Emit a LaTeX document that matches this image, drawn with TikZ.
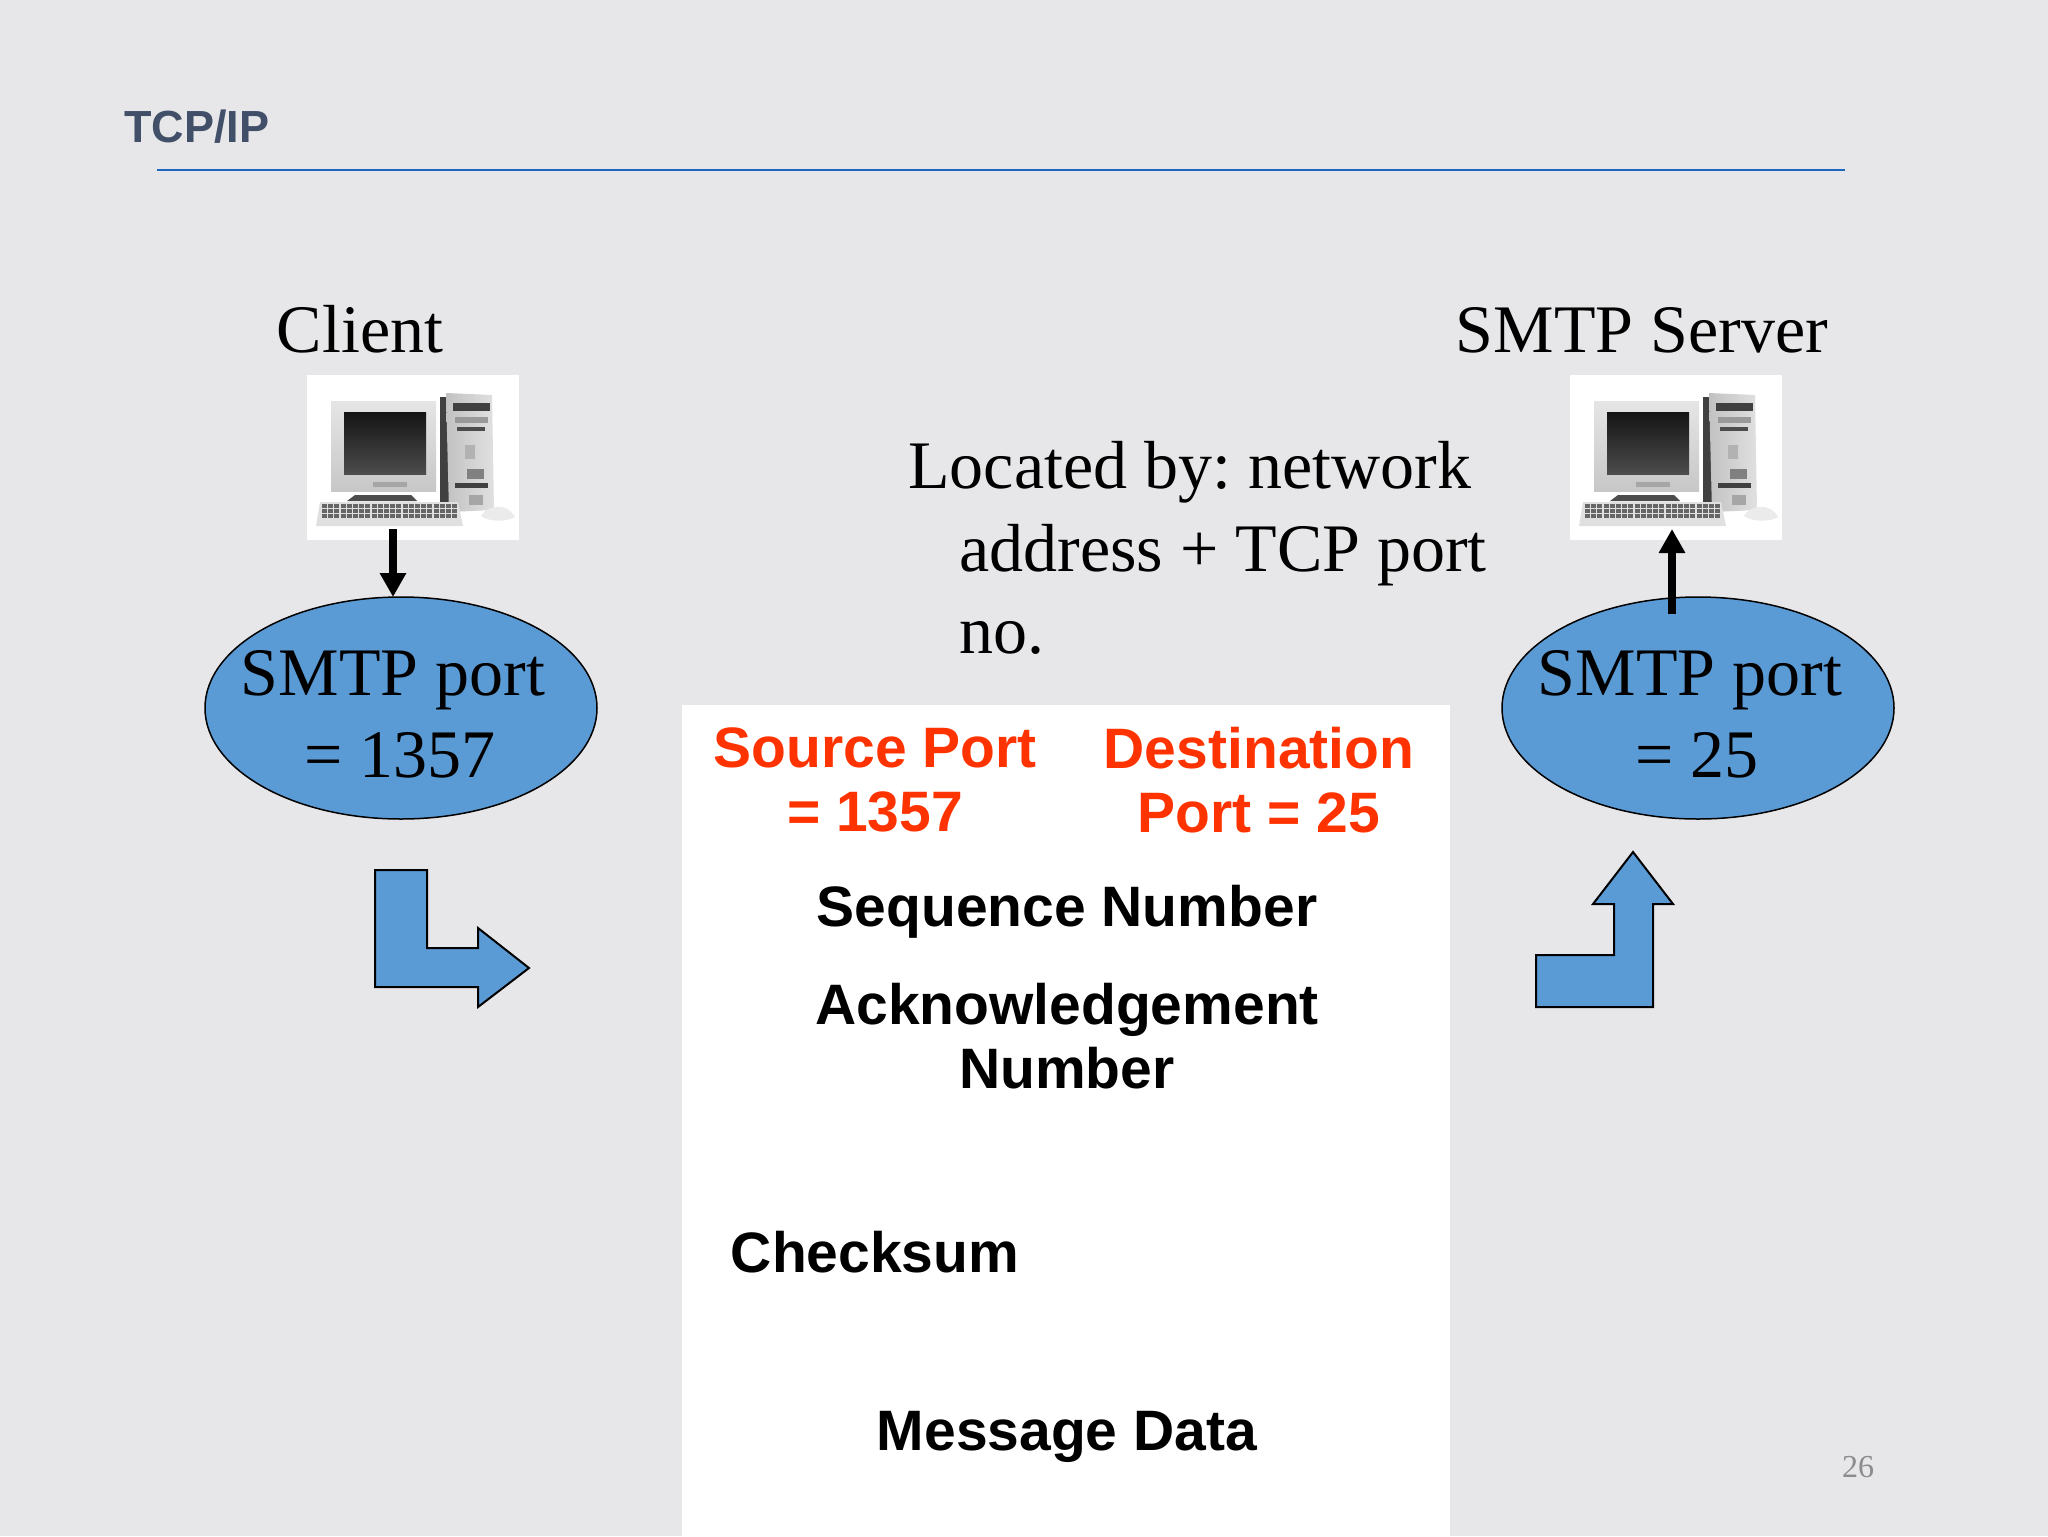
\documentclass[tikz,border=0pt]{standalone}
\usepackage{fontspec}
\setmainfont{Liberation Serif}
\newfontfamily\fieldfont{Liberation Sans}
\usetikzlibrary{positioning, arrows.meta, shapes.geometric}
\definecolor{slideGrey}{HTML}{E7E7E9}
\definecolor{titleSlate}{HTML}{414F68}
\definecolor{ruleBlue}{HTML}{1F66BE}
\definecolor{portBlue}{HTML}{5B9BD5}
\definecolor{fieldRed}{HTML}{FF3300}
\definecolor{pageGrey}{HTML}{8C8C8C}
\tikzstyle{serifbig} =[font=\fontsize{34}{41.8}\selectfont, align=center, inner sep=0pt]
\tikzstyle{portoval} =[ellipse, draw=black, line width=0.75pt, fill=portBlue, minimum width=196pt, minimum height=111pt, inner sep=0pt]
\tikzstyle{porttext} =[font=\fontsize{34}{41}\selectfont, align=center, inner sep=0pt]
\tikzstyle{fieldtext} =[font=\fieldfont\bfseries\fontsize{28.5}{32}\selectfont, align=center, inner sep=0pt]
\tikzstyle{bentarrow} =[draw=black, line width=1pt, fill=portBlue, miter limit=10]
\tikzstyle{thickarrow} =[line width=4pt, black, -{Triangle[length=12pt, width=12.5pt]}]
\tikzset{pcicon/.pic={
  \fill[white] (0,0) rectangle (212,165);
  \fill[black!75] (133,22) rectangle (142,132);
  \shade[left color=black!24, right color=black!12] (139,18) -- (185,20) -- (187,135) -- (142,137) -- cycle;
  \fill[black!75] (146,28) rectangle (183,36);
  \fill[black!40] (148,42) rectangle (181,48);
  \fill[black!70] (150,52) rectangle (178,56);
  \fill[black!30] (158,70) rectangle (168,84);
  \fill[black!50] (160,94) rectangle (177,104);
  \fill[black!75] (148,108) rectangle (181,113);
  \fill[black!35] (162,120) rectangle (176,130);
  \fill[black!70] (48,120) -- (104,120) -- (110,126) -- (40,126) -- cycle;
  \shade[top color=black!10, bottom color=black!22] (24,26) rectangle (129,116);
  \shade[top color=black!92, bottom color=black!70] (37,37) rectangle (119,99);
  \fill[black!35] (66,107) rectangle (100,112);
  \fill[black!12] (9,151) -- (13,127) -- (151,127) -- (156,151) -- cycle;
  \foreach \keyrow in {131,136,141}
    \draw[black!60, line width=1.6pt, dash pattern=on 2.5pt off 0.6pt] (15,\keyrow) -- (150,\keyrow);
  \fill[black!8] (174,141) .. controls (180,130) and (200,127) .. (208,142) .. controls (200,147) and (182,147) .. cycle;
}}

\begin{document}
\frenchspacing
\begin{tikzpicture}[x=0.5pt, y=-0.5pt]
\useasboundingbox (0,0) rectangle (2048,1536);
\fill[slideGrey] (0,0) rectangle (2048,1536);

\node (title) [anchor=base west, inner sep=0pt, text=titleSlate, font=\fieldfont\bfseries\fontsize{22.5}{26}\selectfont] at (124,142) {TCP/IP};
\coordinate (ruleLeft) at (157,170);
\coordinate (ruleRight) at (1845,170);
\draw[ruleBlue, line width=1.3pt] (ruleLeft) -- (ruleRight);

\node (clientLabel) [serifbig, anchor=base] at (360,352) {Client};
\node (serverLabel) [serifbig, anchor=base] at (1642,352) {SMTP Server};

\pic (clientPc) at (307,375) {pcicon};
\pic (serverPc) at (1570,375) {pcicon};

\node (clientPort) [portoval] at (401,708) {};
\node (serverPort) [portoval] at (1698,708) {};
\node (clientPortText) [porttext] at (400,714) {SMTP port\hspace*{7pt}\\= 1357};
\node (serverPortText) [porttext] at (1697,714) {SMTP port\hspace*{7pt}\\= 25};

\coordinate (clientOut) at (393,529);
\coordinate (clientIn) at (393,597);
\draw[thickarrow] (clientOut) -- (clientIn);
\coordinate (serverOut) at (1672,614);
\coordinate (serverIn) at (1672,529);
\draw[thickarrow] (serverOut) -- (serverIn);

\node (located) [font=\fontsize{34}{41.3}\selectfont, align=left, inner sep=0pt, anchor=north west] at (908,441) {Located by: network\\\hspace*{25.5pt}address + TCP port\\\hspace*{25.5pt}no.};

\fill[white] (682,705) rectangle (1450,1536);

\node (srcPort) [fieldtext, text=fieldRed] at (875,780) {Source Port\\= 1357};
\node (dstPort) [fieldtext, text=fieldRed] at (1259,780) {Destination\\Port = 25};
\node (seqNum) [fieldtext, anchor=base] at (1067,926) {Sequence Number};
\node (ackNum) [fieldtext] at (1067,1036) {Acknowledgement\\Number};
\node (checksum) [fieldtext, anchor=base] at (875,1272) {Checksum};
\node (msgData) [fieldtext, anchor=base] at (1067,1450) {Message Data};

\draw[bentarrow] (375,870) -- (427,870) -- (427,948) -- (478,948) -- (478,928) -- (529,968) -- (478,1007) -- (478,987) -- (375,987) -- cycle;
\draw[bentarrow] (1536,955) -- (1614,955) -- (1614,904) -- (1593,904) -- (1633,852) -- (1673,904) -- (1653,904) -- (1653,1007) -- (1536,1007) -- cycle;

\node (pageNum) [anchor=base, inner sep=0pt, text=pageGrey, font=\fontsize{16}{18}\selectfont] at (1858,1477) {26};
\end{tikzpicture}
\end{document}
